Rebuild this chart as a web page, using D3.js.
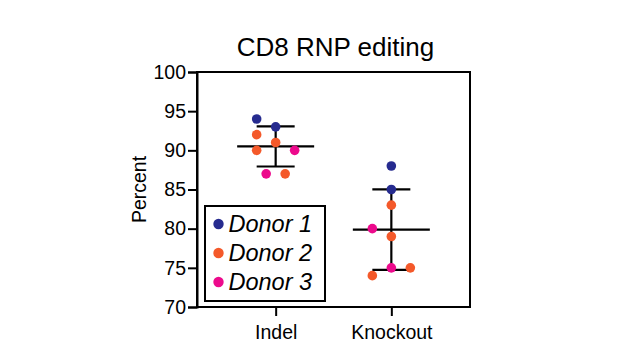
<!DOCTYPE html>
<html><head><meta charset="utf-8">
<script src="https://cdn.jsdelivr.net/npm/d3@7"></script>
<style>html,body{margin:0;padding:0;background:#fff;}svg{display:block;font-family:Arial,"Liberation Sans",sans-serif;}</style>
</head><body>
<script>
const title = "CD8 RNP editing";
const yLabel = "Percent";
const categories = ["Indel", "Knockout"];
const donors = ["Donor 1", "Donor 2", "Donor 3"];
const donorColors = ["#262b8f", "#f4592a", "#ec0a8c"];
const yTicks = [70, 75, 80, 85, 90, 95, 100];
// values per category, per donor
const indelDonor1 = [94, 93];
const indelDonor2 = [92, 91, 90, 87];
const indelDonor3 = [90, 87];
const knockoutDonor1 = [88, 85];
const knockoutDonor2 = [83, 79, 75, 74];
const knockoutDonor3 = [80, 75];
// column-scatter slot order (as arranged in the original)
const indelSlots1 = [-2, 0];
const indelSlots2 = [-2, 0, -2, 1];
const indelSlots3 = [2, -1];
const knockoutSlots1 = [0, 0];
const knockoutSlots2 = [0, 0, 2, -2];
const knockoutSlots3 = [-2, 0];

const values = {
  Indel: [indelDonor1, indelDonor2, indelDonor3],
  Knockout: [knockoutDonor1, knockoutDonor2, knockoutDonor3]
};
const slots = {
  Indel: [indelSlots1, indelSlots2, indelSlots3],
  Knockout: [knockoutSlots1, knockoutSlots2, knockoutSlots3]
};

const W = 634, H = 360;
const m = {left: 197, right: 164, top: 72, bottom: 53};
const FONT = "Arial, 'Liberation Sans', sans-serif";
const svg = d3.select("body").append("svg").attr("width", W).attr("height", H);

const x = d3.scalePoint().domain(categories).range([m.left, W - m.right]).padding(0.68);
const y = d3.scaleLinear().domain([70, 100]).range([H - m.bottom, m.top]);
const slotW = 9.5;

// frame
svg.append("rect").attr("x", m.left).attr("y", m.top)
  .attr("width", W - m.right - m.left).attr("height", H - m.bottom - m.top)
  .attr("fill", "none").attr("stroke", "#000").attr("stroke-width", 2);

const yAxis = svg.append("g").attr("transform", `translate(${m.left},0)`)
  .call(d3.axisLeft(y).tickValues(yTicks).tickSize(9).tickPadding(2));
yAxis.select(".domain").attr("stroke-width", 2);
yAxis.selectAll(".tick line").attr("stroke-width", 2);
yAxis.selectAll("text").attr("font-size", 19.5).attr("fill", "#000").attr("font-family", FONT);

const xAxis = svg.append("g").attr("transform", `translate(0,${H - m.bottom})`)
  .call(d3.axisBottom(x).tickSize(9).tickPadding(9));
xAxis.select(".domain").remove();
xAxis.selectAll(".tick line").attr("stroke-width", 2);
xAxis.selectAll("text").attr("font-size", 19.5).attr("fill", "#000").attr("font-family", FONT);

// mean & SD
categories.forEach(c => {
  const all = values[c].flat();
  const mu = d3.mean(all), sd = d3.deviation(all);
  const cx = x(c);
  const g = svg.append("g").attr("stroke", "#000").attr("stroke-width", 2.2);
  g.append("line").attr("x1", cx).attr("x2", cx).attr("y1", y(mu + sd)).attr("y2", y(mu - sd));
  g.append("line").attr("x1", cx - 38.5).attr("x2", cx + 38.5).attr("y1", y(mu)).attr("y2", y(mu));
  [mu + sd, mu - sd].forEach(v => g.append("line").attr("x1", cx - 19).attr("x2", cx + 19).attr("y1", y(v)).attr("y2", y(v)));
});

// points
categories.forEach(c => {
  values[c].forEach((arr, di) => {
    svg.append("g").selectAll("circle").data(arr).join("circle")
      .attr("cx", (d, i) => x(c) + slots[c][di][i] * slotW)
      .attr("cy", d => y(d))
      .attr("r", 4.8)
      .attr("fill", donorColors[di]);
  });
});

// title & y label
svg.append("text").attr("x", 335.5).attr("y", 56).attr("text-anchor", "middle")
  .attr("font-size", 26).attr("fill", "#000").attr("font-family", FONT).text(title);
svg.append("text").attr("transform", `translate(146,${(m.top + H - m.bottom) / 2}) rotate(-90)`)
  .attr("text-anchor", "middle").attr("font-size", 19.5).attr("fill", "#000").attr("font-family", FONT).text(yLabel);

// legend
const lg = svg.append("g");
lg.append("rect").attr("x", 205).attr("y", 206).attr("width", 120).attr("height", 95)
  .attr("fill", "#fff").attr("stroke", "#000").attr("stroke-width", 2);
donors.forEach((d, i) => {
  const yy = 224 + i * 29;
  lg.append("circle").attr("cx", 218.5).attr("cy", yy).attr("r", 5.2).attr("fill", donorColors[i]);
  lg.append("text").attr("x", 228.5).attr("y", yy + 8).attr("font-size", 23.5)
    .attr("font-style", "italic").attr("fill", "#000").attr("font-family", FONT).text(d);
});
</script>
</body></html>
